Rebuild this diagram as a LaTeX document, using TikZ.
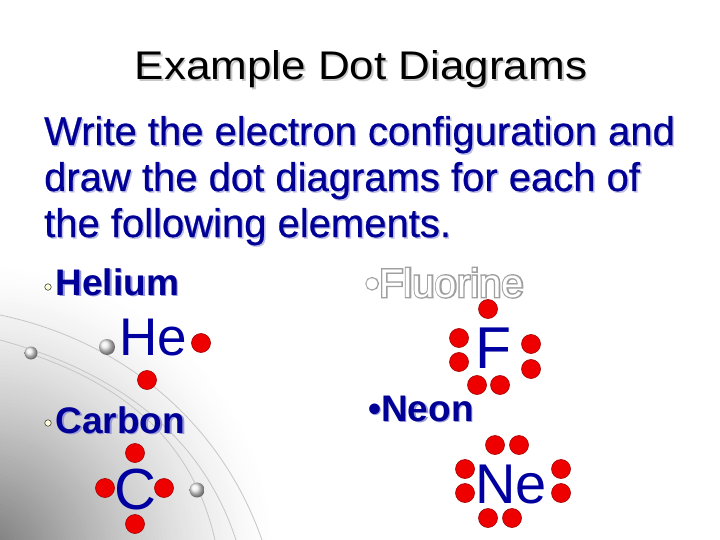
\documentclass[tikz,border=0pt]{standalone}
\usepackage{fontspec}
\setmainfont{Liberation Sans}
\newfontfamily\bodyfont[FakeBold=0.6]{Liberation Sans}
\newfontfamily\outlinefont[FakeBold=7]{Liberation Sans}
\definecolor{txtblue}{RGB}{0,0,150}
\definecolor{bigblue}{RGB}{0,0,160}
\definecolor{dotred}{RGB}{238,0,0}
\definecolor{dotedge}{RGB}{160,0,0}
\tikzset{
  edot/.style={circle, fill=dotred, draw=dotedge, line width=0.6pt, minimum size=19pt, inner sep=0pt},
  arcline/.style={draw=gray!45, line width=0.8pt},
  ballgray/.style={ball color=gray!15},
  bodytxt/.style={anchor=base west, inner sep=0pt, text=txtblue, font=\fontsize{40}{46}\bodyfont},
  bodyshadow/.style={anchor=base west, inner sep=0pt, text=txtblue!25, font=\fontsize{40}{46}\bodyfont},
  headtxt/.style={anchor=base west, inner sep=0pt, text=txtblue, font=\fontsize{#1}{#1}\selectfont\bfseries},
  headshadow/.style={anchor=base west, inner sep=0pt, text=txtblue!40, font=\fontsize{#1}{#1}\selectfont\bfseries},
  bigsym/.style={anchor=base west, inner sep=0pt, text=bigblue, font=\fontsize{#1}{#1}\selectfont},
  hollowbul/.style={circle, fill=yellow!15, draw=black!75, line width=0.6pt, minimum size=6.5pt, inner sep=0pt},
}
\begin{document}
\begin{tikzpicture}[x=1pt,y=-1pt]
\useasboundingbox (0,0) rectangle (720,540);
\fill[white] (0,0) rectangle (720,540);
\begin{scope}
  \clip (0,0) rectangle (720,540);
  \foreach \r in {300,296,...,4} {
    \pgfmathsetmacro\p{56*(1-\r/300)^1.4}
    \fill[black!\p] (-20,560) circle (\r pt);
  }
  \draw[arcline] (0,315) .. controls (120,340) and (220,420) .. (262,540);
  \draw[arcline] (0,340) .. controls (110,370) and (200,430) .. (236,540);
  \draw[arcline] (25,352) .. controls (110,380) and (190,430) .. (215,540);
  \shade[ballgray] (107,347) circle (8pt);
  \shade[ballgray] (31,353) circle (6.5pt);
  \shade[ballgray] (197,490) circle (7.5pt);
\end{scope}

% title
\node[anchor=base, inner sep=0pt, text=black!22, font=\fontsize{40}{40}\selectfont] (titleshadow) at (362.8,81.8) {\scalebox{1.1}[1]{Example Dot Diagrams}};
\node[anchor=base, inner sep=0pt, text=black, font=\fontsize{40}{40}\selectfont] (title) at (361,80) {\scalebox{1.1}[1]{Example Dot Diagrams}};

% body text
\node[bodyshadow] (s1) at (45.5,146.5) {Write the electron configuration and};
\node[bodyshadow] (s2) at (45.5,192.5) {draw the dot diagrams for each of};
\node[bodyshadow] (s3) at (45.5,238.5) {the following elements.};
\node[bodytxt] (l1) at (44,145) {Write the electron configuration and};
\node[bodytxt] (l2) at (44,191) {draw the dot diagrams for each of};
\node[bodytxt] (l3) at (44,237) {the following elements.};

% Helium
\node[hollowbul] (bhe) at (48,287) {};
\node[headshadow=37] (hes) at (57,296.5) {Helium};
\node[headtxt=37] (helium) at (55.5,295) {Helium};
\node[bigsym=53] (He) at (119,355) {He};
\node[edot] (he1) at (201,343) {};
\node[edot] (he2) at (147,380) {};

% Carbon
\node[hollowbul] (bc) at (48,423) {};
\node[headshadow=37] (cas) at (57,434.5) {Carbon};
\node[headtxt=37] (carbon) at (55.5,433) {Carbon};
\node[bigsym=58] (C) at (114,509) {C};
\node[edot] (c1) at (135,453) {};
\node[edot] (c2) at (105,488) {};
\node[edot] (c3) at (164,488) {};
\node[edot] (c4) at (135,524) {};

% Fluorine (white with grey outline)
\node[anchor=base west, inner sep=0pt, text=gray!75, font=\fontsize{40}{40}\outlinefont] (flo) at (365,297) {•Fluorine};
\node[anchor=base west, inner sep=0pt, text=white, font=\fontsize{40}{40}\selectfont] (fluorine) at (365,297) {•Fluorine};
\node[bigsym=59] (F) at (475,368) {F};
\node[edot] (f1) at (488,309) {};
\node[edot] (f2) at (459,338) {};
\node[edot] (f3) at (459,362) {};
\node[edot] (f4) at (531,344) {};
\node[edot] (f5) at (531,369) {};
\node[edot] (f6) at (477,385) {};
\node[edot] (f7) at (500,385) {};

% Neon
\node[headshadow=37] (nes) at (369.5,422.5) {•Neon};
\node[headtxt=37] (neon) at (368,421) {•Neon};
\node[bigsym=56] (Ne) at (475,503) {Ne};
\node[edot] (n1) at (495,445) {};
\node[edot] (n2) at (519,445) {};
\node[edot] (n3) at (465,469) {};
\node[edot] (n4) at (465,493) {};
\node[edot] (n5) at (561,469) {};
\node[edot] (n6) at (561,493) {};
\node[edot] (n7) at (488,518) {};
\node[edot] (n8) at (512,518) {};
\end{tikzpicture}
\end{document}
